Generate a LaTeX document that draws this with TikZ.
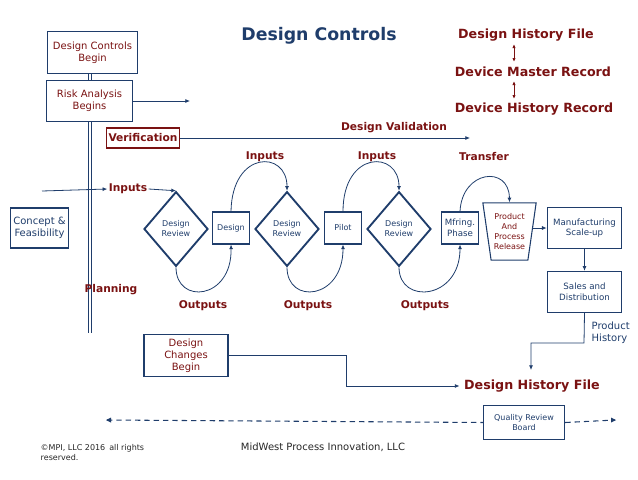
\documentclass[tikz,border=0pt]{standalone}
\usepackage{fontspec}
\setmainfont{DejaVu Sans}
\usetikzlibrary{arrows.meta,shapes.geometric}
\definecolor{db}{HTML}{1F3D6B}
\definecolor{dr}{HTML}{7A1212}
\begin{document}
\begin{tikzpicture}[x=0.75pt,y=-0.75pt,
 box/.style={draw=db,thick,fill=white,align=center,inner sep=1pt,font=\fontsize{7.5}{9}\selectfont},
 sbox/.style={box,font=\fontsize{6}{7.5}\selectfont},
 rt/.style={text=dr,font=\bfseries\fontsize{8}{10}\selectfont},
 big/.style={text=dr,font=\bfseries\fontsize{9.5}{11}\selectfont},
 dia/.style={draw=db,line width=1.4pt,diamond,aspect=0.86,inner sep=0pt,text=db,font=\fontsize{6}{7.5}\selectfont,align=center},
 ar/.style={-{Latex[length=3.5pt,width=3pt]},db,semithick}]
\useasboundingbox (0,0) rectangle (638,479);
\node[text=db,font=\bfseries\fontsize{13}{15}\selectfont] (title) at (319,36) {Design Controls};
\draw[db,semithick,double=white,double distance=1.6pt] (90,74) -- (90,333);
\node[box,text=dr,minimum width=68pt,minimum height=32pt] (dcb) at (92.5,52.5) {Design Controls\\Begin};
\node[box,text=dr,minimum width=64pt,minimum height=31pt] (rab) at (89.5,101) {Risk Analysis\\Begins};
\coordinate (rae) at (190,101);
\draw[ar] (rab.east) -- (rae);
\node[draw=dr,thick,fill=white,rt,minimum width=55pt,minimum height=15pt,inner sep=1pt] (ver) at (143,138) {Verification};
\coordinate (vere) at (470,138);
\draw[ar] (ver.east) -- (vere);
\node[rt] (dval) at (394,128) {Design Validation};
\node[box,text=db,minimum width=44pt,minimum height=30pt] (cf) at (39.5,228) {Concept \&\\Feasibility};
\coordinate (ins) at (42,191);
\node[rt,fill=white,inner sep=1pt] (in0) at (128,189) {Inputs};
\draw[ar] (ins) -- (in0.west);
\node[dia,minimum width=48pt,minimum height=56pt] (d1) at (176,229) {Design\\Review};
\node[dia,minimum width=48pt,minimum height=56pt] (d2) at (287,229) {Design\\Review};
\node[dia,minimum width=48pt,minimum height=56pt] (d3) at (399,229) {Design\\Review};
\draw[ar] (in0.east) -- (d1.north);
\node[sbox,text=db,minimum width=28pt,minimum height=24pt] (des) at (231,228) {Design};
\node[sbox,text=db,minimum width=28pt,minimum height=24pt] (pil) at (343,228) {Pilot};
\node[sbox,text=db,minimum width=28pt,minimum height=24pt,font=\fontsize{6.5}{8}\selectfont] (mfr) at (460,228) {Mfring.\\Phase};
\node[draw=db,thick,trapezium,shape border rotate=180,trapezium angle=79,minimum width=40pt,minimum height=43pt,inner sep=0pt,text=dr,align=center,font=\fontsize{6}{7.5}\selectfont,trapezium stretches=true] (ppr) at (509.5,231.5) {Product\\And\\Process\\Release};
\node[sbox,text=db,minimum width=56pt,minimum height=31pt,font=\fontsize{6.5}{8}\selectfont] (msu) at (584.5,228) {Manufacturing\\Scale-up};
\node[sbox,text=db,minimum width=56pt,minimum height=31pt,font=\fontsize{6.5}{8}\selectfont] (sad) at (584.5,292) {Sales and\\Distribution};
\draw[ar] (ppr.east|-msu.west) -- (msu.west);
\draw[ar] (msu.south) -- (sad.north);
\draw[ar] (d1.south) .. controls (176,305) and (232,300) .. (des.south);
\draw[ar] (des.north) .. controls (232,150) and (287,150) .. (d2.north);
\draw[ar] (d2.south) .. controls (287,305) and (343,300) .. (pil.south);
\draw[ar] (pil.north) .. controls (343,150) and (399,150) .. (d3.north);
\draw[ar] (d3.south) .. controls (399,305) and (460,300) .. (mfr.south);
\draw[ar] (mfr.north) .. controls (462,170) and (509,165) .. (ppr.north);
\node[rt] (o1) at (203,306) {Outputs};
\node[rt] (o2) at (308,306) {Outputs};
\node[rt] (o3) at (425,306) {Outputs};
\node[rt] (i1) at (265,157) {Inputs};
\node[rt] (i2) at (377,157) {Inputs};
\node[rt] (tr) at (484,157) {Transfer};
\node[rt] (pl) at (111,290) {Planning};
\node[big] (dhf1) at (526,35) {Design History File};
\node[big] (dmr) at (533,72) {Device Master Record};
\node[big] (dhr) at (534,109) {Device History Record};
\draw[{Latex[length=3pt,width=2.5pt]}-{Latex[length=3pt,width=2.5pt]},dr,semithick] (514,44) -- (514,62);
\draw[{Latex[length=3pt,width=2.5pt]}-{Latex[length=3pt,width=2.5pt]},dr,semithick] (514,81) -- (514,99);
\node[text=db,align=left,font=\fontsize{7.5}{9}\selectfont,anchor=west] (ph) at (587,333) {Product\\History};
\node[big] (dhf2) at (532,386) {Design History File};
\coordinate (ph1) at (584,343);
\coordinate (ph2) at (531,343);
\draw[ar] (sad.south) -- (ph1) -- (ph2) -- (531,370);
\node[box,text=dr,minimum width=63pt,minimum height=32pt] (dcg) at (186,355.5) {Design\\Changes\\Begin};
\draw[ar] (dcg.east) -| (346,386) -- (dhf2.west);
\node[sbox,text=db,minimum width=61pt,minimum height=26pt] (qrb) at (524,422.5) {Quality Review\\Board};
\coordinate (dl) at (107,420);
\coordinate (dr2) at (615,420);
\draw[db,thick,dash pattern=on 4pt off 3pt] (dl) -- (qrb.west);
\draw[db,thick,dash pattern=on 4pt off 3pt] (qrb.east) -- (dr2);
\fill[db] (dl) ++(-1,0) -- ++(5,-2.5) -- ++(0,5) -- cycle;
\fill[db] (dr2) ++(1,0) -- ++(-5,-2.5) -- ++(0,5) -- cycle;
\node[anchor=north west,align=left,font=\fontsize{6}{7}\selectfont,text=black!85] (cp) at (36,440) {©MPI, LLC 2016\enspace all rights\\reserved.};
\node[font=\fontsize{7.5}{9}\selectfont,text=black!85] (mw) at (323,447) {MidWest Process Innovation, LLC};
\end{tikzpicture}
\end{document}
